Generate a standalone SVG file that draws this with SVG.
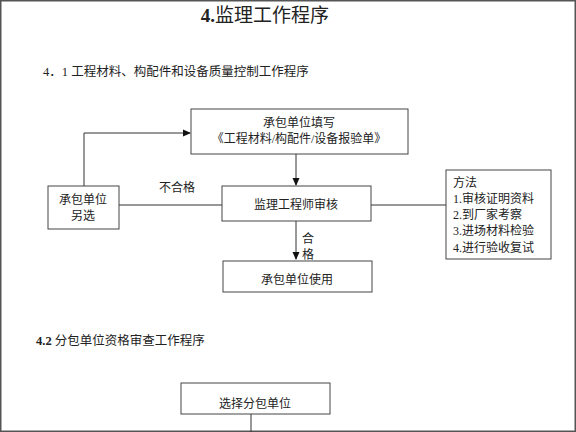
<svg xmlns="http://www.w3.org/2000/svg" width="576" height="432" viewBox="0 0 576 432">
<style>
text{font-family:"Liberation Serif","Noto Sans CJK SC",serif;fill:#222;font-size:12px}
.box{fill:#fff;stroke:#444;stroke-width:1}
.ln{fill:none;stroke:#333;stroke-width:1}
.c{text-anchor:middle}
</style>
<defs>
<marker id="ah" markerWidth="8" markerHeight="8" refX="7" refY="4" orient="auto" markerUnits="userSpaceOnUse">
<path d="M0,0.5 L8,4 L0,7.5 Z" fill="#111"/>
</marker>
</defs>
<rect x="0" y="0" width="576" height="432" fill="#fff"/>
<rect x="0.75" y="0.75" width="574.5" height="430.5" fill="none" stroke="#555" stroke-width="1.5"/>
<text x="265" y="22" class="c" style="font-size:19px"><tspan font-weight="bold">4.</tspan>监理工作程序</text>
<text x="43" y="76" style="font-size:12.5px">4．1 工程材料、构配件和设备质量控制工作程序</text>
<text x="36" y="345" style="font-size:12.5px"><tspan font-weight="bold">4.2</tspan> 分包单位资格审查工作程序</text>
<g id="connectors">
<path class="ln" d="M296,154 V185" marker-end="url(#ah)"/>
<path class="ln" d="M84,186 V133 H190" marker-end="url(#ah)"/>
<path class="ln" d="M119,205 H222"/>
<path class="ln" d="M371,205 H446"/>
<path class="ln" d="M296,221 V259" marker-end="url(#ah)"/>
<path class="ln" d="M251,414 V432"/>
<text x="177" y="192" class="c">不合格</text>
<text x="308" y="243" class="c">合</text>
<text x="308" y="259" class="c">格</text>
</g>
<g id="n1">
<rect class="box" x="191" y="109" width="217" height="45"/>
<text x="299" y="127" class="c">承包单位填写</text>
<text x="299" y="143" class="c">《工程材料/构配件/设备报验单》</text>
</g>
<g id="n2">
<rect class="box" x="222" y="186" width="149" height="35"/>
<text x="296" y="209" class="c">监理工程师审核</text>
</g>
<g id="n3">
<rect class="box" x="48" y="186" width="71" height="43"/>
<text x="83" y="204" class="c">承包单位</text>
<text x="83" y="220" class="c">另选</text>
</g>
<g id="n4">
<rect class="box" x="446" y="170" width="105" height="89"/>
<text x="453" y="187">方法</text>
<text x="453" y="203">1.审核证明资料</text>
<text x="453" y="219">2.到厂家考察</text>
<text x="453" y="235">3.进场材料检验</text>
<text x="453" y="252">4.进行验收复试</text>
</g>
<g id="n5">
<rect class="box" x="223" y="261" width="149" height="31"/>
<text x="297" y="284" class="c">承包单位使用</text>
</g>
<g id="n6">
<rect class="box" x="181" y="383" width="149" height="31"/>
<text x="255" y="408" class="c">选择分包单位</text>
</g>
</svg>
